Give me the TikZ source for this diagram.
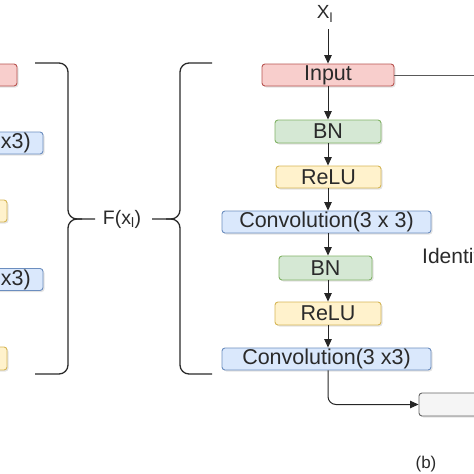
\documentclass[tikz,border=0pt]{standalone}
\usepackage{fontspec}
\setmainfont{Liberation Sans}
\usetikzlibrary{arrows.meta,shadows,calc}
\definecolor{pinkf}{HTML}{F8CECC}\definecolor{pinkd}{HTML}{B85450}
\definecolor{greenf}{HTML}{D5E8D4}\definecolor{greend}{HTML}{82B366}
\definecolor{yellf}{HTML}{FFF2CC}\definecolor{yelld}{HTML}{D6B656}
\definecolor{bluef}{HTML}{DAE8FC}\definecolor{blued}{HTML}{6C8EBF}
\definecolor{greyf}{HTML}{F5F5F5}\definecolor{greyd}{HTML}{666666}
\definecolor{txt}{HTML}{2A2A2A}
\begin{document}
\begin{tikzpicture}[x=1pt,y=-1pt,
  box/.style={draw, rounded corners=3pt, line width=0.9pt, inner sep=0pt,
    minimum height=22pt, text=txt, font=\fontsize{21.5}{23}\selectfont,
    drop shadow={shadow xshift=1.5pt,shadow yshift=-1.5pt,opacity=0.22}},
  pinkbox/.style={box, fill=pinkf, draw=pinkd},
  greenbox/.style={box, fill=greenf, draw=greend},
  yellbox/.style={box, fill=yellf, draw=yelld},
  bluebox/.style={box, fill=bluef, draw=blued},
  greybox/.style={box, fill=greyf, draw=greyd},
  conn/.style={draw=black!85, line width=1pt, -{Triangle[length=8.5pt,width=7.5pt]}},
  plain/.style={draw=black!65, line width=1pt},
  brace/.style={draw=txt, line width=1.3pt, rounded corners=9pt},
  lbl/.style={text=txt, inner sep=0pt}
]
\useasboundingbox (0,0) rectangle (474,474);
% left column (cut off)
\node[pinkbox, minimum width=167pt] (lin) at (-66.5,75) {};
\node[bluebox, minimum width=193pt] (lconv1) at (-53.5,143) {};
\node[lbl, anchor=east, font=\fontsize{21.5}{23}\selectfont] (lconv1t) at (31,143) {Convolution(3 x3)};
\node[yellbox, minimum width=157pt] (lrelu) at (-71.5,211) {};
\node[bluebox, minimum width=193pt] (lconv2) at (-53.5,279.5) {};
\node[lbl, anchor=east, font=\fontsize{21.5}{23}\selectfont] (lconv2t) at (31,279.5) {Convolution(3 x3)};
\node[yellbox, minimum width=157pt, minimum height=23pt] (lrelu2) at (-71.5,358.5) {};
% braces
\draw[brace] (35,63) -- (68,63) -- (68,219) -- (95,219);
\draw[brace] (35,374) -- (68,374) -- (68,219) -- (82,219);
\draw[brace] (212,63) -- (180,63) -- (180,219) -- (152,219);
\draw[brace] (212,374) -- (180,374) -- (180,219) -- (166,219);
\node[lbl, font=\fontsize{19.5}{22}\selectfont] (fx) at (122,219) {F(x\textsubscript{l})};
% right column
\node[lbl, font=\fontsize{19}{22}\selectfont] (xl) at (325,14) {X\textsubscript{l}};
\coordinate (xs) at (328,29);
\node[pinkbox, minimum width=132pt] (input) at (328,75) {Input};
\node[greenbox, minimum width=106pt, minimum height=23pt] (bn1) at (328,131.5) {BN};
\node[yellbox, minimum width=105pt] (relu1) at (328.5,177) {ReLU};
\node[bluebox, minimum width=209pt] (conv1) at (326.5,222) {Convolution(3 x 3)};
\node[greenbox, minimum width=93pt, minimum height=24pt] (bn2) at (325.5,268) {BN};
\node[yellbox, minimum width=106pt, minimum height=23pt] (relu2) at (328,313.5) {ReLU};
\node[bluebox, minimum width=209pt] (conv2) at (326.5,359) {Convolution(3 x3)};
\node[greybox, minimum width=120pt, minimum height=23pt] (add) at (479,404.5) {};
\coordinate (redge) at (476,75);
\node[lbl, anchor=west, font=\fontsize{21}{24}\selectfont] (ident) at (422,258) {Identity};
\node[lbl, font=\fontsize{17}{20}\selectfont] (b) at (426,464) {(b)};
% connectors
\draw[conn] (xs) -- (xs |- input.north);
\draw[conn] (input.south) -- (input.south |- bn1.north);
\draw[conn] (input.south |- bn1.south) -- (input.south |- relu1.north);
\draw[conn] (input.south |- relu1.south) -- (input.south |- conv1.north);
\draw[conn] (input.south |- conv1.south) -- (input.south |- bn2.north);
\draw[conn] (input.south |- bn2.south) -- (input.south |- relu2.north);
\draw[conn] (input.south |- relu2.south) -- (input.south |- conv2.north);
\draw[conn, rounded corners=8pt] (input.south |- conv2.south) |- (add.west);
\draw[plain] (input.east) -- (redge);
\end{tikzpicture}
\end{document}
